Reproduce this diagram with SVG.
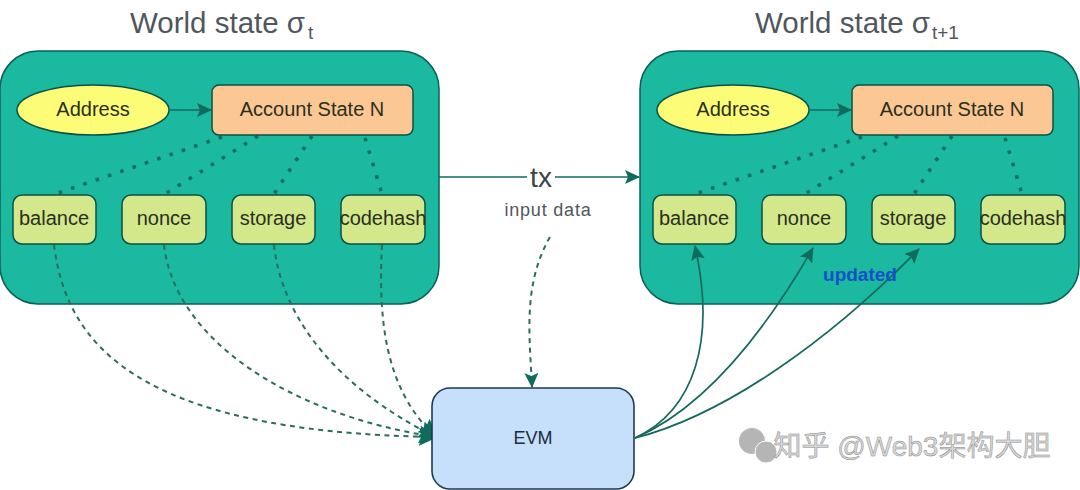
<svg xmlns="http://www.w3.org/2000/svg" width="1080" height="490" viewBox="0 0 1080 490">
<style>
text{font-family:"Liberation Sans",Arial,"Noto Sans CJK SC",sans-serif;text-anchor:middle}
.title{font-size:29.500px;fill:#50565c;text-anchor:start}
.sub{font-size:19px;fill:#50565c;text-anchor:start}
.panel{fill:#1bb9a0;stroke:#0c5f55;stroke-width:1.5}
.addr{fill:#fdfc76;stroke:#0c5045;stroke-width:1.5}
.acct{fill:#fbc795;stroke:#0c5045;stroke-width:1.5}
.field{fill:#d3e88b;stroke:#0c5045;stroke-width:1.5}
.lbl{font-size:20px;fill:#2a2f1c}
.dot{fill:none;stroke:#0d6a5c;stroke-width:3.500;stroke-dasharray:3.500 9.500}
.dash{fill:none;stroke:#2b6b60;stroke-width:2;stroke-dasharray:5 4.500}
.solid{fill:none;stroke:#17685c;stroke-width:1.7}
.hd{fill:#0f6b5c}
</style>
<defs>
<marker id="arr" markerWidth="16" markerHeight="14" refX="14" refY="7" orient="auto" markerUnits="userSpaceOnUse"><path class="hd" d="M0 0L15 7L0 14L3 7Z"/></marker>
<marker id="big" markerWidth="20" markerHeight="18" refX="17" refY="9" orient="auto" markerUnits="userSpaceOnUse"><path class="hd" d="M0 0L19 9L0 18L3 9Z"/></marker>
</defs>
<rect width="1080" height="490" fill="#fff"/>
<g id="state-t">
<text class="title" x="130" y="33">World state σ</text><text class="sub" x="308" y="39">t</text>
<rect class="panel" x="0" y="51" width="439" height="253" rx="38"/>
</g>
<g id="state-t1">
<text class="title" x="755" y="33">World state σ</text><text class="sub" x="932" y="39">t+1</text>
<rect class="panel" x="640" y="51" width="439" height="253" rx="38"/>
</g>
<g id="connectors">
<path class="solid" d="M170 110H211" marker-end="url(#arr)"/>
<path class="solid" d="M810 110H851" marker-end="url(#arr)"/>
<path class="dot" d="M222 137L55 194M258 136L165 194M312 136L274 194M365 138L382 194"/>
<path class="dot" d="M862 137L695 194M898 136L805 194M952 136L914 194M1005 138L1022 194"/>
<path class="solid" d="M439 177H527M555 177H639" marker-end="url(#arr)"/>
<path class="dash" d="M54 245C66 340 130 432 436 437" marker-end="url(#big)"/>
<path class="dash" d="M164 245C175 340 290 415 436 437" marker-end="url(#big)"/>
<path class="dash" d="M274 245C282 320 340 390 436 437" marker-end="url(#big)"/>
<path class="dash" d="M382 245C378 320 385 390 436 437" marker-end="url(#big)"/>
<path class="dash" d="M550 237C522 285 530 340 532 387" marker-end="url(#arr)"/>
<path class="solid" d="M635 438C695 410 716 340 695 246" marker-end="url(#arr)"/>
<path class="solid" d="M635 438C700 410 760 340 813 248" marker-end="url(#arr)"/>
<path class="solid" d="M635 438C725 415 830 340 919 249" marker-end="url(#arr)"/>
</g>
<g id="tx"><text x="541" y="187" font-size="28" fill="#3d4347">tx</text><text x="548" y="216" font-size="18" letter-spacing=".8" fill="#50565c">input data</text></g>
<g id="address-l"><ellipse class="addr" cx="93" cy="110" rx="76" ry="25"/><text class="lbl" x="93" y="116">Address</text></g>
<g id="account-l"><rect class="acct" x="212" y="85" width="201" height="50" rx="7"/><text class="lbl" x="312" y="116">Account State N</text></g>
<g id="balance-l"><rect class="field" x="13" y="195" width="83" height="49" rx="9"/><text class="lbl" x="54" y="225">balance</text></g>
<g id="nonce-l"><rect class="field" x="122" y="195" width="84" height="49" rx="9"/><text class="lbl" x="164" y="225">nonce</text></g>
<g id="storage-l"><rect class="field" x="232" y="195" width="83" height="49" rx="9"/><text class="lbl" x="273" y="225">storage</text></g>
<g id="codehash-l"><rect class="field" x="341" y="195" width="84" height="49" rx="9"/><text class="lbl" x="383" y="225">codehash</text></g>
<g id="address-r"><ellipse class="addr" cx="733" cy="110" rx="76" ry="25"/><text class="lbl" x="733" y="116">Address</text></g>
<g id="account-r"><rect class="acct" x="852" y="85" width="201" height="50" rx="7"/><text class="lbl" x="952" y="116">Account State N</text></g>
<g id="balance-r"><rect class="field" x="653" y="195" width="83" height="49" rx="9"/><text class="lbl" x="694" y="225">balance</text></g>
<g id="nonce-r"><rect class="field" x="762" y="195" width="84" height="49" rx="9"/><text class="lbl" x="804" y="225">nonce</text></g>
<g id="storage-r"><rect class="field" x="872" y="195" width="83" height="49" rx="9"/><text class="lbl" x="913" y="225">storage</text></g>
<g id="codehash-r"><rect class="field" x="981" y="195" width="84" height="49" rx="9"/><text class="lbl" x="1023" y="225">codehash</text></g>
<g id="updated"><text x="860" y="281" font-size="19" font-weight="bold" fill="#1450c8">updated</text></g>
<g id="evm"><rect x="432" y="388" width="202" height="101" rx="18" fill="#c6dffa" stroke="#1f3a4e" stroke-width="1.600"/><text x="533" y="444" font-size="18" fill="#1a2c40">EVM</text></g>
<g id="watermark">
<circle cx="752" cy="441" r="13" fill="#b5b5b5"/><circle cx="766" cy="452" r="11" fill="#b5b5b5" stroke="#fff"/>
<text x="912" y="456" font-size="28" fill="#d8d8d8" stroke="#8a8a8a" stroke-width=".5">知乎 @Web3架构大胆</text>
</g>
</svg>
